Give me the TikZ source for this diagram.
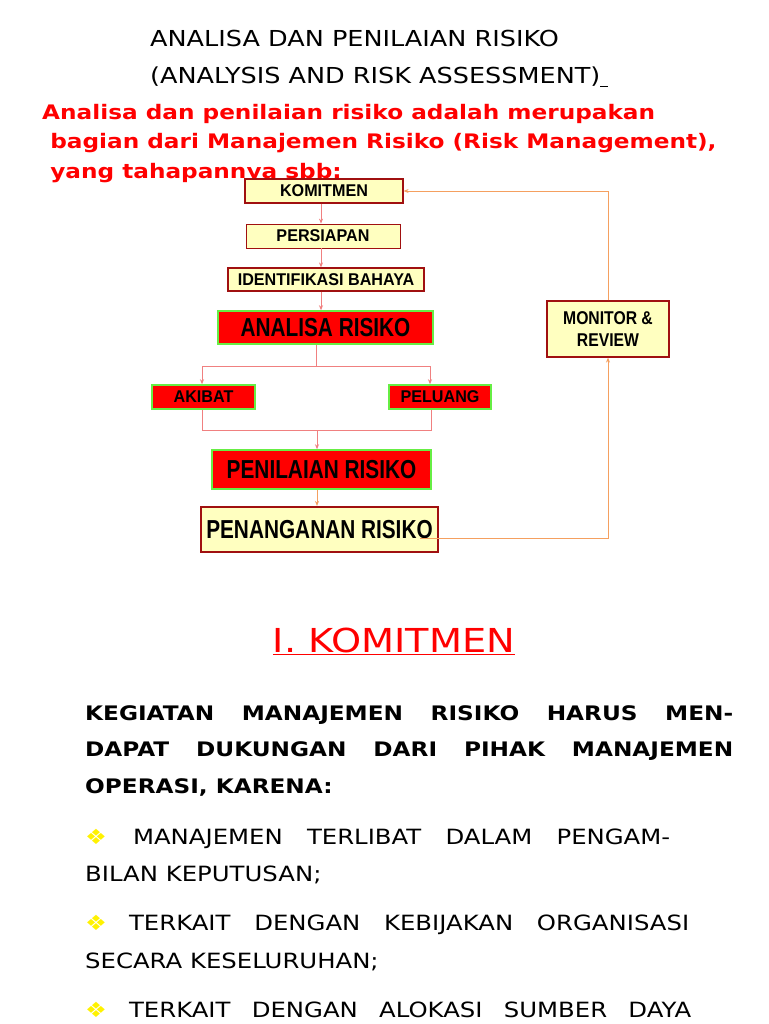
\documentclass[tikz,border=0pt]{standalone}
\usepackage{fontspec}
\setmainfont[FakeStretch=1.16]{DejaVu Sans}
\newfontfamily\arl{Liberation Sans}
\usetikzlibrary{arrows.meta}
\definecolor{lyel}{HTML}{FFFFC0}
\definecolor{dred}{HTML}{A01010}
\definecolor{lnk}{HTML}{F08080}
\definecolor{org}{HTML}{F5A060}
\definecolor{grn}{HTML}{66EE44}
\newcommand{\nar}[1]{\scalebox{0.95}[1]{#1}}
\newcommand{\narr}[1]{\scalebox{0.8}[1]{#1}}
\begin{document}
\begin{tikzpicture}[x=1pt,y=-1pt,
  ybox/.style={draw=dred,line width=1.2pt,fill=lyel,inner sep=0pt,font=\arl\bfseries\fontsize{17}{19}\selectfont},
  rbox/.style={draw=grn,line width=1.5pt,fill=red,inner sep=0pt,font=\arl\bfseries\fontsize{17}{19}\selectfont},
  lk/.style={draw=lnk,line width=0.8pt},
  lka/.style={lk,-{Stealth[length=5pt,width=4pt]}},
  ok/.style={draw=org,line width=0.9pt,-{Stealth[length=5pt,width=4pt]}},
  btxt/.style={anchor=base west,font=\fontsize{21}{24}\selectfont,inner sep=0pt}]
\useasboundingbox (0,0) rectangle (768,1024);
\fill[white] (0,0) rectangle (768,1024);
\node[anchor=base west,font=\fontsize{22}{26}\selectfont,inner sep=0pt] (t1) at (150,47) {ANALISA DAN PENILAIAN RISIKO};
\node[anchor=base west,font=\fontsize{22}{26}\selectfont,inner sep=0pt] (t2) at (150,84) {(ANALYSIS AND RISK ASSESSMENT)\rule[-3pt]{8pt}{0.8pt}};
\node[anchor=north west,align=left,text=red,font=\bfseries\fontsize{20}{29.5}\selectfont,inner sep=0pt] (rt) at (42,104) {Analisa dan penilaian risiko adalah merupakan\\ \ bagian dari Manajemen Risiko (Risk Management),\\ \ yang tahapannya sbb:};
% boxes
\node[ybox,minimum width=158,minimum height=24] (kom) at (324,191) {\nar{KOMITMEN}};
\node[ybox,line width=0.8pt,minimum width=154,minimum height=24] (per) at (323,236) {\nar{PERSIAPAN}};
\node[ybox,minimum width=196,minimum height=23] (ide) at (326,279.5) {\nar{IDENTIFIKASI BAHAYA}};
\node[rbox,minimum width=215,minimum height=33,font=\arl\bfseries\fontsize{26}{28}\selectfont] (ana) at (325.5,327.5) {\narr{ANALISA RISIKO}};
\node[rbox,minimum width=103,minimum height=24] (aki) at (203.5,397) {\nar{AKIBAT}};
\node[rbox,minimum width=102,minimum height=24] (pel) at (440,397) {\nar{PELUANG}};
\node[rbox,minimum width=219,minimum height=39,font=\arl\bfseries\fontsize{26}{28}\selectfont] (pen) at (321.5,469.5) {\narr{PENILAIAN RISIKO}};
\node[ybox,line width=2.2pt,minimum width=237,minimum height=45,font=\arl\bfseries\fontsize{26}{28}\selectfont] (pgn) at (319.5,529.5) {\narr{PENANGANAN RISIKO}};
\node[ybox,minimum width=122,minimum height=56,align=center,font=\arl\bfseries\fontsize{18.5}{22}\selectfont] (mon) at (608,329) {\scalebox{0.85}[1]{MONITOR \&}\\\scalebox{0.85}[1]{REVIEW}};
% connectors
\coordinate (c1) at (316,366);
\coordinate (c2) at (317,430);
\coordinate (c3) at (420,538);
\draw[lka] (kom.south -| 321,0) -- (per.north -| 321,0);
\draw[lka] (per.south -| 321,0) -- (ide.north -| 321,0);
\draw[lka] (ide.south -| 321,0) -- (ana.north -| 321,0);
\draw[lk] (ana.south -| c1) -- (c1);
\draw[lka] (c1) -| (aki.north -| 202,0);
\draw[lka] (c1) -| (pel.north -| 430,0);
\draw[lk] (aki.south -| 202,0) |- (c2);
\draw[lk] (pel.south -| 431,0) |- (c2);
\draw[lka] (c2) -- (pen.north -| c2);
\draw[ok] (pen.south -| c2) -- (pgn.north -| c2);
\draw[ok] (c3) -- (608,538) -- (mon.south);
\draw[ok] (mon.north) -- (608,191) -- (kom.east);
% section heading
\node[anchor=base,text=red,font=\fontsize{33}{36}\selectfont] (h) at (394,652) {\underline{I. KOMITMEN}};
\node[anchor=base west,text width=648,font=\bfseries\fontsize{20}{24}\selectfont,inner sep=0pt] (p1) at (85,720) {KEGIATAN\hfill MANAJEMEN\hfill RISIKO\hfill HARUS\hfill MEN-};
\node[anchor=base west,text width=648,font=\bfseries\fontsize{20}{24}\selectfont,inner sep=0pt] (p2) at (85,756) {DAPAT\hfill DUKUNGAN\hfill DARI\hfill PIHAK\hfill MANAJEMEN};
\node[anchor=base west,font=\bfseries\fontsize{20}{24}\selectfont,inner sep=0pt] (p3) at (85,793) {OPERASI, KARENA:};
\node[btxt,text width=585] (b1) at (85,844) {{\color{yellow}❖}\hspace{26pt}MANAJEMEN\hfill TERLIBAT\hfill DALAM\hfill PENGAM-};
\node[btxt] (b1b) at (85,881) {BILAN KEPUTUSAN;};
\node[btxt,text width=604] (b2) at (85,930) {{\color{yellow}❖}\hspace{22pt}TERKAIT\hfill DENGAN\hfill KEBIJAKAN\hfill ORGANISASI};
\node[btxt] (b2b) at (85,968) {SECARA KESELURUHAN;};
\node[btxt,text width=606] (b3) at (85,1017) {{\color{yellow}❖}\hspace{22pt}TERKAIT\hfill DENGAN\hfill ALOKASI\hfill SUMBER\hfill DAYA};
\end{tikzpicture}
\end{document}
